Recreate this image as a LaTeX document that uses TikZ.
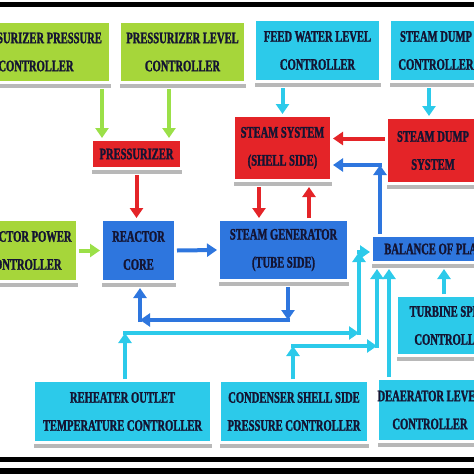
\documentclass[tikz,border=0pt]{standalone}
\usepackage{fontspec}
\newfontfamily\boxfont[FakeStretch=0.66,FakeBold=1.5]{Liberation Serif Bold}
\usetikzlibrary{arrows.meta,shadows}
\definecolor{ctrlgreen}{RGB}{166,214,58}
\definecolor{arrgreen}{RGB}{155,224,72}
\definecolor{ctrlcyan}{RGB}{44,202,234}
\definecolor{plantblue}{RGB}{46,118,222}
\definecolor{plantred}{RGB}{228,36,40}
\definecolor{inkblue}{RGB}{20,20,50}
\tikzset{
  blk/.style={draw=white, line width=3pt, inner sep=0pt, align=center, text=inkblue,
    drop shadow={shadow xshift=0pt, shadow yshift=-5pt, fill=black!28, opacity=1},
    font=\boxfont\fontsize{16}{28}\selectfont},
  gbox/.style={blk, fill=ctrlgreen},
  cbox/.style={blk, fill=ctrlcyan},
  bbox/.style={blk, fill=plantblue},
  rbox/.style={blk, fill=plantred},
  arr/.style={line width=4pt, -{Triangle[width=13pt,length=10pt]}}
}
\begin{document}
\begin{tikzpicture}[x=1pt,y=-1pt]
\useasboundingbox (0,0) rectangle (474,474);
\clip (0,0) rectangle (474,474);
\fill[black] (0,2) rectangle (474,7);
\fill[black] (0,457) rectangle (474,462);
\fill[black] (0,468) rectangle (474,474);

\node[gbox, minimum width=149, minimum height=61] (ppc) at (36,52) {PRESSURIZER PRESSURE\\CONTROLLER};
\node[gbox, minimum width=126, minimum height=61] (plc) at (182.5,52) {PRESSURIZER LEVEL\\CONTROLLER};
\node[cbox, minimum width=126, minimum height=62] (fwlc) at (317.5,50.5) {FEED WATER LEVEL\\CONTROLLER};
\node[cbox, minimum width=93, minimum height=62] (sdc) at (436,50.5) {STEAM DUMP\\CONTROLLER};
\node[rbox, minimum width=90, minimum height=29] (prz) at (136.5,154) {PRESSURIZER};
\node[rbox, minimum width=98, minimum height=65] (sss) at (282.5,148) {STEAM SYSTEM\\(SHELL SIDE)};
\node[rbox, minimum width=93, minimum height=66] (sds) at (433,150.5) {STEAM DUMP\\SYSTEM};
\node[gbox, minimum width=107, minimum height=62] (rpc) at (24,250.5) {REACTOR POWER\\CONTROLLER};
\node[bbox, minimum width=74, minimum height=62] (rc) at (138.5,250.5) {REACTOR\\CORE};
\node[bbox, minimum width=130, minimum height=61] (sg) at (283.5,250) {STEAM GENERATOR\\(TUBE SIDE)};
\node[bbox, minimum width=133, minimum height=27] (bop) at (438,249) {BALANCE OF PLANT};
\node[cbox, minimum width=111, minimum height=60] (tsc) at (452,325.5) {TURBINE SPEED\\CONTROLLER};
\node[cbox, minimum width=178, minimum height=62] (roc) at (122.5,411.5) {REHEATER OUTLET\\TEMPERATURE CONTROLLER};
\node[cbox, minimum width=149, minimum height=62] (cspc) at (294,411.5) {CONDENSER SHELL SIDE\\PRESSURE CONTROLLER};
\node[cbox, minimum width=103, minimum height=63] (dlc) at (430,410) {DEAERATOR LEVEL\\CONTROLLER};

\draw[arr, arrgreen, shorten <=5pt] ([xshift=66]ppc.south) -- ([xshift=-34.5]prz.north);
\draw[arr, arrgreen, shorten <=5pt] ([xshift=-13.5]plc.south) -- ([xshift=32.5]prz.north);
\draw[arr, plantred, shorten <=5pt] (prz.south) -- (prz.south |- rc.north);
\draw[arr, ctrlcyan, shorten <=5pt] (sss.north |- fwlc.south) -- (sss.north);
\draw[arr, ctrlcyan, shorten <=5pt] ([xshift=-4]sds.north |- sdc.south) -- ([xshift=-4]sds.north);
\draw[arr, plantred] ([yshift=12]sds.west) -- ([yshift=12]sds.west -| sss.east);

\coordinate (bopup) at (380,165);
\draw[arr, plantblue] ([xshift=-58]bop.north) -- (bopup);
\draw[arr, plantblue] ([xshift=2]bopup) -- (bopup -| sss.east);

\draw[arr, plantred, shorten <=5pt] ([xshift=-23.5]sss.south) -- ([xshift=-24.5]sg.north);
\draw[arr, plantred, shorten >=5pt] ([xshift=25.5]sg.north) -- ([xshift=26.5]sss.south);
\draw[arr, arrgreen] (rpc.east) -- (rc.west);
\draw[arr, plantblue] (rc.east) -- (sg.west);

\coordinate (sgloop) at (288,320);
\coordinate (rcloop) at (140,320);
\draw[arr, plantblue, shorten <=5pt] (sgloop |- sg.south) -- (sgloop);
\draw[arr, plantblue] ([xshift=2]sgloop) -- (rcloop);
\draw[arr, plantblue, shorten >=5pt] ([yshift=-2]rcloop) -- (rcloop |- rc.south);

\coordinate (rocup) at (125,333);
\coordinate (rocrt) at (359,333);
\coordinate (rocbop) at (359,252);
\draw[arr, ctrlcyan] (rocup |- roc.north) -- (rocup);
\draw[arr, ctrlcyan] ([xshift=-2]rocup) -- (rocrt);
\draw[arr, ctrlcyan] ([yshift=-2]rocrt) -- (rocbop);
\draw[arr, ctrlcyan] ([xshift=-2]rocbop) -- (rocbop -| bop.west);

\coordinate (cspcup) at (293,346);
\coordinate (cspcrt) at (377,346);
\draw[arr, ctrlcyan] (cspcup |- cspc.north) -- (cspcup);
\draw[arr, ctrlcyan] ([xshift=-2]cspcup) -- (cspcrt);
\draw[arr, ctrlcyan, shorten >=5pt] ([yshift=-2]cspcrt) -- (cspcrt |- bop.south);

\foreach \dx/\src in {-41/dlc, -8/tsc}
  \draw[arr, ctrlcyan, shorten >=5pt] ([xshift=\dx]\src.north) -- ([xshift=\dx]\src.north |- bop.south);
\end{tikzpicture}
\end{document}
